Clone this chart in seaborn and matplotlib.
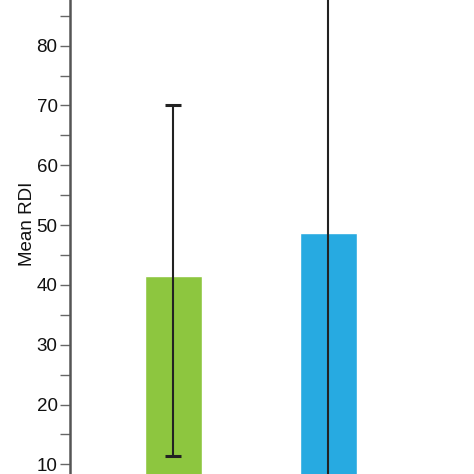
import matplotlib
matplotlib.use("Agg")
import matplotlib.pyplot as plt
import numpy as np
import pandas as pd
import seaborn as sns
from matplotlib.ticker import MultipleLocator

# values
groups = ["Group 1", "Group 2"]
mean_rdi = [41.5, 48.6]
err_low = [11.4, 3.0]    # lower end of error bar
err_high = [70.0, 94.0]  # upper end of error bar
bar_colors = ["#8DC63F", "#27AAE1"]

sns.set_style("white")
plt.rcParams['font.family'] = ['Liberation Sans', 'DejaVu Sans']

df = pd.DataFrame({"group": groups, "mean": mean_rdi})

fig = plt.figure(figsize=(4.74, 4.74), dpi=100)
ax = fig.add_axes([70 / 474, 0, 1 - 70 / 474, 1])

sns.barplot(data=df, x="group", y="mean", hue="group", palette=bar_colors,
            width=0.365, errorbar=None, legend=False, ax=ax, saturation=1)

means = np.array(mean_rdi)
yerr = [means - np.array(err_low), np.array(err_high) - means]
ax.errorbar(np.arange(len(groups)), means, yerr=yerr, fmt="none",
            ecolor="#222222", elinewidth=1.5, capsize=5.5, capthick=2.2)

ax.set_ylim(8.38, 87.64)
ax.set_xlim(-0.668, 1.94)
ax.yaxis.set_major_locator(MultipleLocator(10))
ax.yaxis.set_minor_locator(MultipleLocator(5))
ax.tick_params(axis="y", which="both", direction="out", length=7, width=1,
               color="#666666", pad=2, labelsize=13.5, labelcolor="#111111",
               left=True)
ax.set_xticks([])
ax.set_xlabel("")
ax.set_ylabel("Mean RDI", fontsize=13.5, color="#111111")
ax.yaxis.set_label_coords(-34 / 404, 0.528)

for s in ["top", "right", "bottom"]:
    ax.spines[s].set_visible(False)
ax.spines["left"].set_color("#555555")
ax.spines["left"].set_linewidth(1.8)

fig.savefig("out.png", dpi=100)
